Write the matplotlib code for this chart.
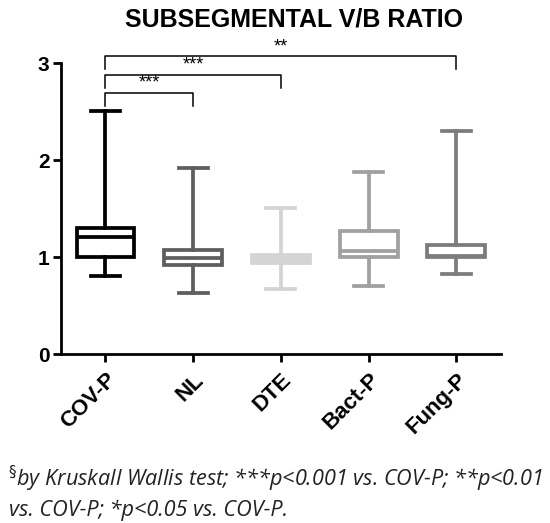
import matplotlib
matplotlib.use("Agg")
import matplotlib.pyplot as plt

groups = ["COV-P", "NL", "DTE", "Bact-P", "Fung-P"]
whislo = [0.80, 0.625, 0.67, 0.70, 0.83]
q1 = [1.00, 0.92, 0.94, 1.005, 1.00]
med = [1.205, 0.995, 0.98, 1.06, 1.01]
q3 = [1.305, 1.07, 1.02, 1.272, 1.12]
whishi = [2.505, 1.92, 1.505, 1.88, 2.30]
colors = ["#000000", "#5e5e5e", "#d4d4d4", "#a0a0a0", "#7c7c7c"]

# comparisons vs COV-P: (other group index, bar height, label)
comparisons = [(1, 2.69, "***"), (2, 2.88, "***"), (4, 3.07, "**")]

plt.rcParams["font.family"] = ["Liberation Sans", "DejaVu Sans"]

fig = plt.figure(figsize=(5.5, 5.23), dpi=100)
ax = fig.add_axes([0.1104, 0.3231, 0.8005, 0.5559])

lw = 2.7
for i, g in enumerate(groups):
    s = {"label": g, "whislo": whislo[i], "q1": q1[i], "med": med[i],
         "q3": q3[i], "whishi": whishi[i], "fliers": []}
    c = colors[i]
    fill = c if g == "DTE" else "none"
    ax.bxp([s], positions=[i], widths=0.66, showfliers=False, patch_artist=True,
           boxprops=dict(facecolor=fill, edgecolor=c, linewidth=lw),
           medianprops=dict(color=c, linewidth=lw, solid_capstyle="butt"),
           whiskerprops=dict(color=c, linewidth=lw),
           capprops=dict(color=c, linewidth=lw), capwidths=0.33)

for j, h, lab in comparisons:
    ax.plot([0, 0, j, j], [h - 0.13, h, h, h - 0.13], color="black", lw=1.1,
            clip_on=False)
    ax.text(j / 2, h + 0.015, lab, ha="center", va="bottom", fontsize=13)

ax.set_xlim(-0.51, 4.51)
ax.set_ylim(0, 3)
ax.set_yticks([0, 1, 2, 3])
ax.set_xticks(range(len(groups)))
ax.set_xticklabels(groups, rotation=45, ha="right", rotation_mode="anchor",
                   fontsize=16, fontweight="bold")
for t in ax.get_yticklabels():
    t.set_fontsize(15)
    t.set_fontweight("bold")
ax.tick_params(width=2.0, length=6, pad=2)
ax.tick_params(axis="x", pad=5)
for sp in ["top", "right"]:
    ax.spines[sp].set_visible(False)
for sp in ["left", "bottom"]:
    ax.spines[sp].set_linewidth(2.0)

fig.text(0.535, 0.963, "SUBSEGMENTAL V/B RATIO", ha="center", va="center",
         fontsize=18, fontweight="bold")

line1 = "$^{\\S}$by Kruskall Wallis test; ***p<0.001 vs. COV-P; **p<0.01"
line2 = "vs. COV-P; *p<0.05 vs. COV-P."
nfont = ["Open Sans", "DejaVu Sans"]
t1 = fig.text(8 / 550, 1 - 486.5 / 523, line1, ha="left", va="baseline",
              fontsize=15, style="italic", family=nfont, color="#222222")
t2 = fig.text(9 / 550, 1 - 516 / 523, line2, ha="left", va="baseline",
              fontsize=15, style="italic", family=nfont, color="#222222")

# scale footnote so the first line spans about the reference width
r = fig.canvas.get_renderer()
w = t1.get_window_extent(r).width
fs = 15 * 535 / w
t1.set_fontsize(fs)
t2.set_fontsize(fs)

fig.savefig("out.png", dpi=100)
